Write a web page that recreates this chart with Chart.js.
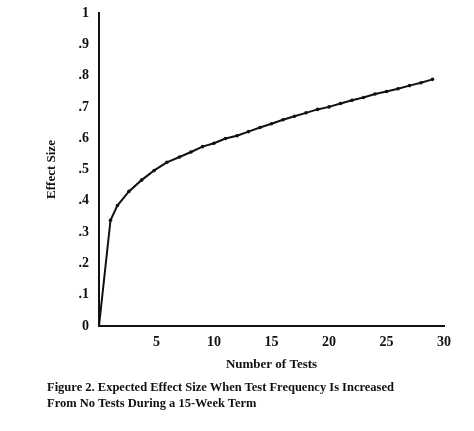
<!DOCTYPE html>
<html>
<head>
<meta charset="utf-8">
<script src="https://cdn.jsdelivr.net/npm/chart.js@4"></script>
<style>
  body { margin: 0; background: #fff; }
  #wrap { position: relative; width: 474px; height: 380px; }
  #cap { position: absolute; left: 47px; top: 379px; font: bold 12.5px "Liberation Serif", serif; line-height: 16px; color: #111; }
</style>
</head>
<body>
<div id="wrap"><canvas id="c" width="474" height="380"></canvas></div>
<div id="cap">Figure 2. Expected Effect Size When Test Frequency Is Increased<br>From No Tests During a 15-Week Term</div>
<script>
// number of tests and expected effect size
const tests = [0, 1, 1.6, 2.6, 3.7, 4.8, 5.9, 7, 8, 9, 10, 11, 12, 13, 14, 15, 16, 17, 18, 19, 20, 21, 22, 23, 24, 25, 26, 27, 28, 29];
const effect = [0, 0.338, 0.385, 0.43, 0.466, 0.497, 0.523, 0.54, 0.556, 0.573, 0.584, 0.599, 0.608, 0.621, 0.634, 0.646, 0.659, 0.670, 0.681, 0.692, 0.700, 0.711, 0.721, 0.730, 0.741, 0.749, 0.758, 0.768, 0.777, 0.788];
const xTicks = [5, 10, 15, 20, 25, 30];

const font = { family: "Liberation Serif", weight: "bold", size: 14 };

new Chart(document.getElementById("c"), {
  type: "line",
  data: {
    datasets: [{
      data: tests.map((t, i) => ({ x: t, y: effect[i] })),
      borderColor: "#111",
      borderWidth: 2,
      pointRadius: tests.map(t => t === 0 ? 0 : 1.8),
      pointBackgroundColor: "#111",
      pointBorderWidth: 0,
      tension: 0,
    }],
  },
  options: {
    responsive: false,
    animation: false,
    layout: { padding: { left: 40, top: 13, right: 30, bottom: 4 } },
    plugins: { legend: { display: false }, tooltip: { enabled: false } },
    scales: {
      x: {
        type: "linear", min: 0, max: 30,
        afterBuildTicks: s => { s.ticks = xTicks.map(v => ({ value: v })); },
        grid: { display: false, drawTicks: true, tickLength: 6, tickColor: "#111" },
        border: { color: "#111", width: 2 },
        ticks: { color: "#111", font: font, padding: 2 },
        title: { display: true, text: "Number of Tests", color: "#111", font: { ...font, size: 13 }, padding: { top: 8 } },
        afterFit: s => { s.height = 50; },
      },
      y: {
        min: 0, max: 1,
        grid: { display: false, drawTicks: true, tickLength: 6, tickColor: "#111" },
        border: { color: "#111", width: 2 },
        ticks: {
          stepSize: 0.05, color: "#111", font: font, padding: 4, autoSkip: false,
          callback: v => {
            const r = Math.round(v * 100);
            if (r % 10 !== 0) return "";
            if (r === 0) return "0";
            if (r === 100) return "1";
            return "." + r / 10;
          },
        },
        title: { display: true, text: "Effect Size", color: "#111", font: { ...font, size: 13 }, padding: { bottom: 14 } },
        afterFit: s => { s.width = 59; },
      },
    },
  },
});
</script>
</body>
</html>
